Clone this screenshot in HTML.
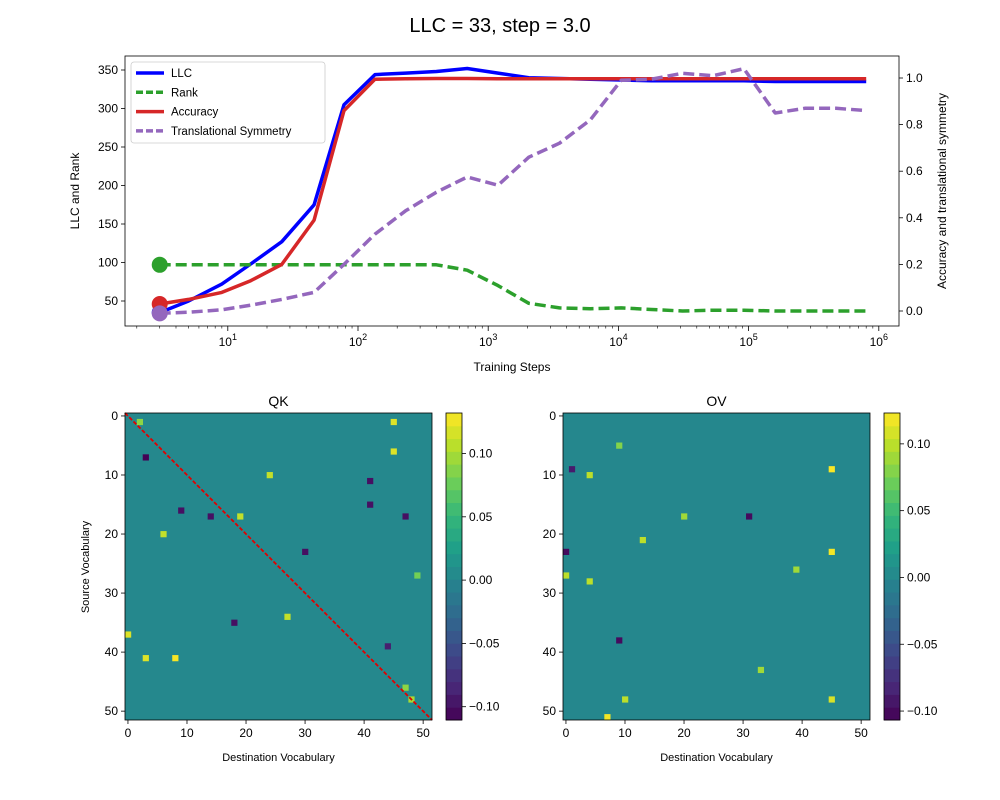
<!DOCTYPE html>
<html><head><meta charset="utf-8"><style>
body{margin:0;background:#fff}
svg{display:block;font-family:"Liberation Sans","DejaVu Sans",sans-serif}
</style></head><body>
<svg id="fig" width="1000" height="800" viewBox="0 0 1000 800">
<text x="500" y="32" text-anchor="middle" font-size="20">LLC = 33, step = 3.0</text>
<g id="top"></g>
<g id="qk"></g>
<g id="ov"></g>
</svg>
<script>
const steps=[3,5,9,15,26,46,78,135,232,400,690,1190,2050,3530,6080,10500,18000,31000,53500,92000,160000,270000,470000,800000];
const llc=[35,50,72,98,127,175,305,344,346,348,352,346,340,339,338,337,336,336,336,336,335,335,335,335];
const rank=[97,97,97,97,97,97,97,97,97,97,90,70,47,41,40,41,39,37,38,38,37,37,37,37];
const accuracy=[0.03,0.05,0.08,0.13,0.2,0.39,0.86,0.995,0.997,0.998,0.998,0.997,0.997,0.997,0.997,0.997,0.997,0.997,0.997,0.997,0.997,0.997,0.997,0.997];
const symmetry=[-0.01,-0.005,0.005,0.025,0.05,0.08,0.2,0.33,0.43,0.51,0.575,0.54,0.66,0.72,0.82,0.99,0.995,1.02,1.01,1.04,0.85,0.87,0.87,0.86];
const leftTicks=[50,100,150,200,250,300,350];
const rightTicks=[0.0,0.2,0.4,0.6,0.8,1.0];
const decades=[1,2,3,4,5,6];
// heatmap notable cells: [row, col, value]
const qkCells=[[1,2,0.09],[1,45,0.12],[6,45,0.12],[7,3,-0.11],[10,24,0.11],[17,19,0.11],[20,6,0.11],[34,27,0.11],[37,0,0.12],[41,3,0.12],[41,8,0.13],[23,30,-0.1],[48,48,0.1],[16,9,-0.1],[17,14,-0.1],[17,47,-0.1],[35,18,-0.1],[11,41,-0.1],[15,41,-0.1],[46,47,0.09],[39,44,-0.09],[27,49,0.08]];
const ovCells=[[9,45,0.122],[23,45,0.12],[21,13,0.1],[10,4,0.1],[51,7,0.12],[48,10,0.1],[23,0,-0.1],[17,31,-0.1],[38,9,-0.1],[48,45,0.11],[27,0,0.1],[9,1,-0.09],[17,20,0.09],[5,9,0.08],[43,33,0.09],[28,4,0.1],[26,39,0.09]];
const qkTicks=[-0.10,-0.05,0.00,0.05,0.10];
const ovTicks=[-0.10,-0.05,0.00,0.05,0.10];
const vocabTicks=[0,10,20,30,40,50];

const NS="http://www.w3.org/2000/svg";
function mk(parent,tag,attrs){const e=document.createElementNS(NS,tag);for(const k in attrs)e.setAttribute(k,attrs[k]);parent.appendChild(e);return e;}
const V=["#440154","#482878","#3e4989","#31688e","#26828e","#1f9e89","#35b779","#6ece58","#b5de2b","#fde725"];
function viridis(t){t=Math.max(0,Math.min(1,t));const p=t*9,i=Math.min(8,Math.floor(p)),f=p-i;
const a=V[i],b=V[i+1];const c=j=>Math.round(parseInt(a.substr(j,2),16)*(1-f)+parseInt(b.substr(j,2),16)*f);
return "rgb("+c(1)+","+c(3)+","+c(5)+")";}

// ---- top chart ----
const T=document.getElementById('top');
const X0=125,X1=899,Y0=56,Y1=326;
const xs=v=>97.6+130.2*Math.log10(v);
const yl=v=>301-(v-50)*0.77;
const yr=v=>311-v*233;
let tk;
for(const d of decades){
  const x=xs(Math.pow(10,d));
  tk=mk(T,'line',{x1:x,x2:x,y1:Y1,y2:Y1+5,stroke:'#000','stroke-width':0.8});
  
  
  const t=mk(T,'text',{x:x,y:Y1+20,'text-anchor':'middle','font-size':12});
  
  
  t.innerHTML='10<tspan dy="-6" font-size="9">'+d+'</tspan>';
}
for(let d=0;d<6;d++)for(let m=2;m<10;m++){const x=xs(m*Math.pow(10,d));if(x<X0||x>X1)continue;
  tk=mk(T,'line',{x1:x,x2:x,y1:Y1,y2:Y1+2.5,stroke:'#000','stroke-width':0.6});
  
  }
for(const v of leftTicks){const y=yl(v);
  tk=mk(T,'line',{x1:X0-4,x2:X0,y1:y,y2:y,stroke:'#000','stroke-width':0.8});
  
  
  const t=mk(T,'text',{x:X0-7,y:y+4,'text-anchor':'end','font-size':12});t.textContent=v;
  
  }
for(const v of rightTicks){const y=yr(v);
  tk=mk(T,'line',{x1:X1,x2:X1+4,y1:y,y2:y,stroke:'#000','stroke-width':0.8});
  
  
  const t=mk(T,'text',{x:X1+7,y:y+4,'font-size':12});t.textContent=v.toFixed(1);
  
  }
function series(vals,yf,color,dash,name){
  const pts=vals.map((v,i)=>xs(steps[i]).toFixed(1)+','+yf(v).toFixed(1)).join(' ');
  const a={points:pts,fill:'none',stroke:color,'stroke-width':3.5,'stroke-linejoin':'round'};
  if(dash)a['stroke-dasharray']=dash;
  const p=mk(T,'polyline',a);
  
  
  const c=mk(T,'circle',{cx:xs(steps[0]),cy:yf(vals[0]),r:8,fill:color});
  
  
}
series(llc,yl,'#0000ff',null,'llc');
series(rank,yl,'#2ca02c','11,5','rank');
series(accuracy,yr,'#d62728',null,'accuracy');
series(symmetry,yr,'#9467bd','11,5','symmetry');
const fr=mk(T,'rect',{x:X0,y:Y0,width:X1-X0,height:Y1-Y0,fill:'none',stroke:'#000','stroke-width':0.8});


let lab=mk(T,'text',{x:512,y:371,'text-anchor':'middle','font-size':12});lab.textContent='Training Steps';

lab=mk(T,'text',{x:79,y:191,'text-anchor':'middle','font-size':12,transform:'rotate(-90 79 191)'});lab.textContent='LLC and Rank';

lab=mk(T,'text',{x:946,y:191,'text-anchor':'middle','font-size':12,transform:'rotate(-90 946 191)'});lab.textContent='Accuracy and translational symmetry';

const lg=mk(T,'g',{});

mk(lg,'rect',{x:131,y:62,width:194,height:81,rx:3,fill:'#fff','fill-opacity':0.8,stroke:'#ccc','stroke-width':0.8});
[['LLC','#0000ff',null],['Rank','#2ca02c','7,3'],['Accuracy','#d62728',null],['Translational Symmetry','#9467bd','7,3']].forEach((e,i)=>{
  const y=73+i*19.3;const g=mk(lg,'g',{});
  
  const a={x1:136,x2:164,y1:y,y2:y,stroke:e[1],'stroke-width':3.5};if(e[2])a['stroke-dasharray']=e[2];
  mk(g,'line',a);const t=mk(g,'text',{x:171,y:y+4,'font-size':11.5});t.textContent=e[0];});

// ---- heatmaps ----
function heat(id,ax,cells,base,vmin,vmax,ticks,title,ylabel,diag){
  const G=document.getElementById(id);
  const x0=ax,y0=413,sz=307,cs=sz/52;
  const t=v=>(v-vmin)/(vmax-vmin);
  const bg=mk(G,'rect',{x:x0,y:y0,width:sz,height:sz,fill:viridis(t(base))});
  
  for(const c of cells){const r=mk(G,'rect',{x:x0+c[1]*cs,y:y0+c[0]*cs,width:cs+0.3,height:cs+0.3,fill:viridis(t(c[2]))});
    }
  if(diag){const l=mk(G,'line',{x1:x0,y1:y0,x2:x0+sz,y2:y0+sz,stroke:'#e00000','stroke-width':1.8,'stroke-dasharray':'4,2'});
    }
  const f=mk(G,'rect',{x:x0,y:y0,width:sz,height:sz,fill:'none',stroke:'#000','stroke-width':0.8});
  
  for(const v of vocabTicks){const p=cs*(v+0.5);
    let l=mk(G,'line',{x1:x0+p,x2:x0+p,y1:y0+sz,y2:y0+sz+4,stroke:'#000','stroke-width':0.8});
    
    let tx=mk(G,'text',{x:x0+p,y:y0+sz+17,'text-anchor':'middle','font-size':12});tx.textContent=v;
    
    l=mk(G,'line',{x1:x0-4,x2:x0,y1:y0+p,y2:y0+p,stroke:'#000','stroke-width':0.8});
    
    tx=mk(G,'text',{x:x0-7,y:y0+p+4,'text-anchor':'end','font-size':12});tx.textContent=v;
    }
  let tt=mk(G,'text',{x:x0+sz/2,y:406,'text-anchor':'middle','font-size':14});tt.textContent=title;
  
  tt=mk(G,'text',{x:x0+sz/2,y:761,'text-anchor':'middle','font-size':11});tt.textContent='Destination Vocabulary';
  
  if(ylabel){tt=mk(G,'text',{x:89,y:567,'text-anchor':'middle','font-size':11,transform:'rotate(-90 89 567)'});tt.textContent=ylabel;
    }
  // colorbar
  const cx=x0+321,cw=16;const cb=mk(G,'g',{});
  
  const n=24;for(let i=0;i<n;i++){mk(cb,'rect',{x:cx,y:y0+sz-(i+1)*sz/n,width:cw,height:sz/n+0.5,fill:viridis((i+0.5)/n)});}
  mk(cb,'rect',{x:cx,y:y0,width:cw,height:sz,fill:'none',stroke:'#000','stroke-width':0.8});
  for(const v of ticks){const y=y0+sz-t(v)*sz;
    mk(cb,'line',{x1:cx+cw,x2:cx+cw+4,y1:y,y2:y,stroke:'#000','stroke-width':0.8});
    const tx=mk(cb,'text',{x:cx+cw+7,y:y+4,'font-size':12});tx.textContent=(v<0?'\u22120':'0')+Math.abs(v).toFixed(2).slice(1);
    }
}
heat('qk',125,qkCells,0.003,-0.1105,0.1320,qkTicks,'QK','Source Vocabulary',true);
heat('ov',563,ovCells,0.0,-0.1067,0.1231,ovTicks,'OV',null,false);
</script>
</body></html>
